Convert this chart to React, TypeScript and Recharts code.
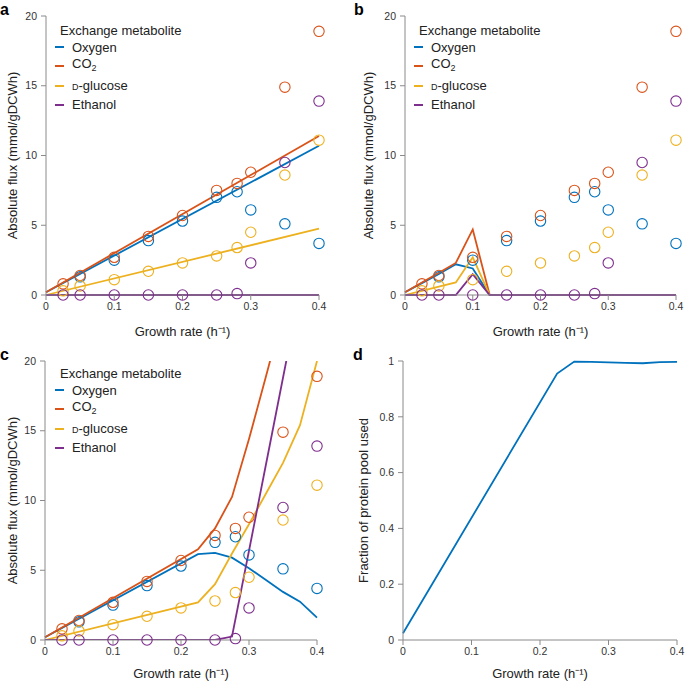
import React from "react";
import { ComposedChart, Line, Scatter, XAxis, YAxis, Legend, Label } from "recharts";

// measured exchange fluxes (circles), shared by panels a-c
const growthRates = [0.025, 0.05, 0.1, 0.15, 0.2, 0.25, 0.28, 0.3, 0.35, 0.4];
const measuredOxygen = [null, 1.3, 2.5, 3.9, 5.3, 7.0, 7.4, 6.1, 5.1, 3.7];
const measuredCO2 = [0.8, 1.4, 2.7, 4.2, 5.7, 7.5, 8.0, 8.8, 14.9, 18.9];
const measuredGlucose = [0.3, 0.65, 1.1, 1.7, 2.3, 2.8, 3.4, 4.5, 8.6, 11.1];
const measuredEthanol = [0, 0, 0, 0, 0, 0, 0.1, 2.3, 9.5, 13.9];

// panel a model
const modelAx = [0, 0.4];
const modelAOxygen = [0.2, 10.7];
const modelACO2 = [0.2, 11.4];
const modelAGlucose = [0, 4.75];
const modelAEthanol = [0, 0];

// panel b model
const modelBx = [0, 0.025, 0.05, 0.075, 0.1, 0.125, 0.4];
const modelBOxygen = [0.2, 0.85, 1.5, 2.2, 1.9, 0, 0];
const modelBCO2 = [0.2, 0.9, 1.6, 2.3, 4.7, 0, 0];
const modelBGlucose = [0, 0.3, 0.6, 0.9, 2.7, 0, 0];
const modelBEthanol = [0, 0, 0, 0, 1.5, 0, 0];

// panel c model
const modelCx = [0, 0.225, 0.25, 0.275, 0.3, 0.325, 0.35, 0.375, 0.4];
const modelCOxygen = [0.2, 6.15, 6.25, 5.9, 5.15, 4.3, 3.45, 2.75, 1.6];
const modelCCO2 = [0.2, 6.5, 8.0, 10.25, 14.4, 18.9, 23.5, 28, 32];
const modelCGlucose = [0, 2.7, 4.0, 6.2, 8.3, 10.5, 12.7, 15.4, 20];
const modelCEthanol = [0, 0, 0, 0.25, 6.4, 12.6, 18.8, 25, 31];

// panel d
const poolX = [0, 0.225, 0.25, 0.275, 0.3, 0.325, 0.35, 0.375, 0.4];
const poolUsed = [0.024, 0.955, 0.998, 0.997, 0.995, 0.993, 0.992, 0.996, 0.997];

const xTicks = [0, 0.1, 0.2, 0.3, 0.4];
const fluxTicks = [0, 5, 10, 15, 20];
const poolTicks = [0, 0.2, 0.4, 0.6, 0.8, 1];

const COLORS = {
  oxygen: "#0072BD",
  co2: "#D95319",
  glucose: "#EDB120",
  ethanol: "#7E2F8E",
};
const FONT = '"Liberation Sans", Arial, sans-serif';
const AXIS = "#8a8a8a";

type Pt = { x: number; y: number };
const toPoints = (xs: number[], ys: (number | null)[]): Pt[] =>
  xs.flatMap((x, i) => (ys[i] == null ? [] : [{ x, y: ys[i] as number }]));

const measured = [
  { key: "oxygen", color: COLORS.oxygen, data: toPoints(growthRates, measuredOxygen) },
  { key: "co2", color: COLORS.co2, data: toPoints(growthRates, measuredCO2) },
  { key: "glucose", color: COLORS.glucose, data: toPoints(growthRates, measuredGlucose) },
  { key: "ethanol", color: COLORS.ethanol, data: toPoints(growthRates, measuredEthanol) },
];

const modelSeries = (xs: number[], o: number[], c: number[], g: number[], e: number[]) => [
  { key: "oxygen", color: COLORS.oxygen, data: toPoints(xs, o) },
  { key: "co2", color: COLORS.co2, data: toPoints(xs, c) },
  { key: "glucose", color: COLORS.glucose, data: toPoints(xs, g) },
  { key: "ethanol", color: COLORS.ethanol, data: toPoints(xs, e) },
];

const legendRows = [
  { color: COLORS.oxygen, label: <>Oxygen</> },
  { color: COLORS.co2, label: <>CO<sub style={{ fontSize: 9, verticalAlign: -3 }}>2</sub></> },
  { color: COLORS.glucose, label: <><span style={{ fontVariant: "small-caps" }}>d</span>-glucose</> },
  { color: COLORS.ethanol, label: <>Ethanol</> },
];

const MetaboliteLegend = () => (
  <div style={{ fontFamily: FONT, fontSize: 13, color: "#222", lineHeight: "19.3px" }}>
    <div style={{ paddingLeft: 5, height: 17 }}>Exchange metabolite</div>
    {legendRows.map((r, i) => (
      <div key={i} style={{ display: "flex", alignItems: "center", height: 19.3 }}>
        <span style={{ width: 9, height: 2, background: r.color, marginRight: 8 }} />
        <span>{r.label}</span>
      </div>
    ))}
  </div>
);

const fmt = (v: number) => (v === 0 ? "0" : v === 1 ? "1" : String(v));

const OpenCircle = (color: string) => (p: any) =>
  <circle cx={p.cx} cy={p.cy} r={5.2} fill="none" stroke={color} strokeWidth={1.1} />;

interface PanelProps {
  width: number;
  height: number;
  margin: { top: number; right: number; left: number; bottom: number };
  yAxisWidth: number;
  xAxisHeight: number;
  yLabel: string;
  yLabelOffset: number;
  xLabelOffset: number;
  yDomain: [number, number];
  yTicks: number[];
  lines: { key: string; color: string; data: Pt[] }[];
  points?: boolean;
  clip?: boolean;
  legendTop?: number;
  legendLeft?: number;
}

const Panel = (p: PanelProps) => (
  <ComposedChart width={p.width} height={p.height} margin={p.margin}>
    <XAxis
      type="number"
      dataKey="x"
      domain={[0, 0.4]}
      ticks={xTicks}
      tickFormatter={fmt}
      stroke={AXIS}
      tickSize={5}
      tickMargin={3}
      height={p.xAxisHeight}
      tick={{ fontSize: 10.5, fill: "#333", fontFamily: FONT }}
    >
      <Label
        value="Growth rate (h⁻¹)"
        position="insideBottom"
        offset={p.xLabelOffset}
        fontSize={13}
        fill="#222"
        fontFamily={FONT}
      />
    </XAxis>
    <YAxis
      yAxisId="model"
      type="number"
      dataKey="y"
      domain={p.yDomain}
      ticks={p.yTicks}
      tickFormatter={fmt}
      allowDataOverflow={!!p.clip}
      stroke={AXIS}
      tickSize={5}
      tickMargin={4}
      width={p.yAxisWidth}
      tick={{ fontSize: 10.5, fill: "#333", fontFamily: FONT }}
    >
      <Label
        value={p.yLabel}
        angle={-90}
        position="insideLeft"
        offset={p.yLabelOffset}
        fontSize={13}
        fill="#222"
        fontFamily={FONT}
        style={{ textAnchor: "middle" }}
      />
    </YAxis>
    <YAxis yAxisId="measured" orientation="right" width={0} type="number" dataKey="y" domain={p.yDomain} hide />
    {p.points &&
      measured.map((s) => (
        <Scatter
          key={"m-" + s.key}
          yAxisId="measured"
          data={s.data}
          dataKey="y"
          shape={OpenCircle(s.color)}
          isAnimationActive={false}
        />
      ))}
    {p.lines.map((s) => (
      <Line
        key={"l-" + s.key}
        yAxisId="model"
        data={s.data}
        dataKey="y"
        type="linear"
        stroke={s.color}
        strokeWidth={1.8}
        dot={false}
        activeDot={false}
        isAnimationActive={false}
      />
    ))}
    {p.legendTop != null && (
      <Legend
        layout="vertical"
        align="center"
        verticalAlign="middle"
        content={() => <MetaboliteLegend />}
        wrapperStyle={{ top: p.legendTop, left: p.legendLeft, width: 160 }}
      />
    )}
  </ComposedChart>
);

const box = (left: number, top: number): React.CSSProperties => ({ position: "absolute", left, top });

export default function App() {
  return (
    <div style={{ position: "relative", width: 685, height: 682, background: "#fff", overflow: "hidden" }}>
      <style>{"body{margin:0}"}</style>
      <div style={box(0, 0)}>
        <Panel
          width={340}
          height={340}
          margin={{ top: 16, right: 21, left: 0, bottom: 0 }}
          yAxisWidth={46}
          xAxisHeight={45}
          yLabel="Absolute flux (mmol/gDCWh)"
          yLabelOffset={12}
          xLabelOffset={4}
          yDomain={[0, 20]}
          yTicks={fluxTicks}
          lines={modelSeries(modelAx, modelAOxygen, modelACO2, modelAGlucose, modelAEthanol)}
          points
          legendTop={20.5}
          legendLeft={55}
        />
      </div>
      <div style={box(340, 0)}>
        <Panel
          width={345}
          height={340}
          margin={{ top: 16, right: 9, left: 0, bottom: 0 }}
          yAxisWidth={65}
          xAxisHeight={45}
          yLabel="Absolute flux (mmol/gDCWh)"
          yLabelOffset={28}
          xLabelOffset={4}
          yDomain={[0, 20]}
          yTicks={fluxTicks}
          lines={modelSeries(modelBx, modelBOxygen, modelBCO2, modelBGlucose, modelBEthanol)}
          points
          legendTop={20.5}
          legendLeft={74}
        />
      </div>
      <div style={box(0, 340)}>
        <Panel
          width={340}
          height={342}
          margin={{ top: 21, right: 23, left: 0, bottom: 0 }}
          yAxisWidth={45}
          xAxisHeight={42}
          yLabel="Absolute flux (mmol/gDCWh)"
          yLabelOffset={12}
          xLabelOffset={4.5}
          yDomain={[0, 20]}
          yTicks={fluxTicks}
          lines={modelSeries(modelCx, modelCOxygen, modelCCO2, modelCGlucose, modelCEthanol)}
          points
          clip
          legendTop={23.5}
          legendLeft={55}
        />
      </div>
      <div style={box(340, 340)}>
        <Panel
          width={345}
          height={342}
          margin={{ top: 21, right: 8, left: 0, bottom: 0 }}
          yAxisWidth={63}
          xAxisHeight={42}
          yLabel="Fraction of protein pool used"
          yLabelOffset={23}
          xLabelOffset={4.5}
          yDomain={[0, 1]}
          yTicks={poolTicks}
          lines={[{ key: "pool", color: COLORS.oxygen, data: toPoints(poolX, poolUsed) }]}
        />
      </div>
      <svg width={685} height={682} style={{ position: "absolute", left: 0, top: 0, pointerEvents: "none" }}>
        <g fontFamily={FONT} fontWeight="bold" fontSize={16} fill="#000">
          <text x={0} y={15}>a</text>
          <text x={354} y={15}>b</text>
          <text x={0} y={360}>c</text>
          <text x={353} y={360}>d</text>
        </g>
      </svg>
    </div>
  );
}
